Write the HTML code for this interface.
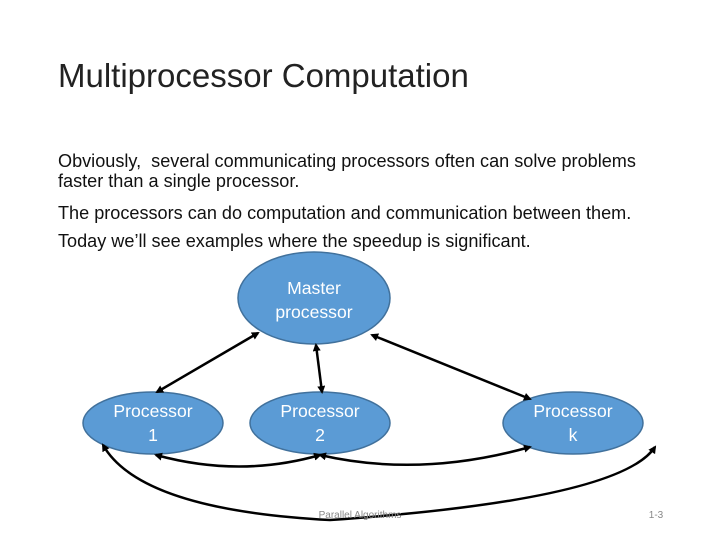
<!DOCTYPE html>
<html><head><style>
body{margin:0;width:720px;height:540px;background:#fff;font-family:"Liberation Sans",sans-serif;overflow:hidden;position:relative}
.t{position:absolute;left:58px;top:57px;font-size:33px;color:#222}
.b{position:absolute;left:58px;font-size:18.1px;color:#111;line-height:20px;white-space:nowrap}
</style></head><body>
<div class="t">Multiprocessor Computation</div>
<div class="b" style="top:151px">Obviously,&nbsp; several communicating processors often can solve problems<br>faster than a single processor.</div>
<div class="b" style="top:203px">The processors can do computation and communication between them.</div>
<div class="b" style="top:231px">Today we’ll see examples where the speedup is significant.</div>
<svg width="720" height="540" style="position:absolute;left:0;top:0">
<defs><marker id="a" markerWidth="8" markerHeight="8" refX="6" refY="4" orient="auto-start-reverse" markerUnits="userSpaceOnUse"><path d="M0,0 L8,4 L0,8 z" fill="#000"/></marker></defs>
<g fill="#5b9bd5" stroke="#41719c" stroke-width="1.5">
<ellipse cx="314" cy="298" rx="76" ry="46"/>
<ellipse cx="153" cy="423" rx="70" ry="31"/>
<ellipse cx="320" cy="423" rx="70" ry="31"/>
<ellipse cx="573" cy="423" rx="70" ry="31"/>
</g>
<g fill="none" stroke="#000" stroke-width="2.5" marker-start="url(#a)" marker-end="url(#a)">
<line x1="258" y1="333" x2="157" y2="392"/>
<line x1="316" y1="345" x2="322" y2="392"/>
<line x1="372" y1="335" x2="530" y2="399"/>
<path d="M156,455 Q240,478 320,455"/>
<path d="M320,455 Q420,478 530,447"/>
<path d="M103,445 Q140,510 330,520 Q620,500 655,447"/>
</g>
<g fill="#fff" font-size="17.6" text-anchor="middle">
<text x="314" y="294">Master</text><text x="314" y="318">processor</text>
<text x="153" y="417">Processor</text><text x="153" y="441">1</text>
<text x="320" y="417">Processor</text><text x="320" y="441">2</text>
<text x="573" y="417">Processor</text><text x="573" y="441">k</text>
</g>
<text x="360" y="518" font-size="10" fill="#888" text-anchor="middle">Parallel Algorithms</text>
<text x="656" y="518" font-size="10" fill="#888" text-anchor="middle">1-3</text>
</svg>
</body></html>
